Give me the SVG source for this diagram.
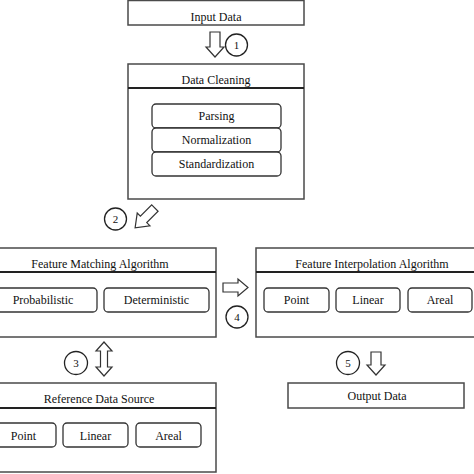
<svg xmlns="http://www.w3.org/2000/svg" width="474" height="474" viewBox="0 0 474 474">
<style>
  .box{fill:#fff;stroke:#4a4a4a;stroke-width:1.5}
  .hdr{stroke:#222;stroke-width:2}
  .item{fill:#fff;stroke:#333;stroke-width:1.3}
  .t{font-family:"Liberation Serif","Times New Roman","DejaVu Serif",serif;font-size:12px;fill:#111;text-anchor:middle}
  .num{font-family:"Liberation Serif","Times New Roman","DejaVu Serif",serif;font-size:11px;fill:#111;text-anchor:middle}
  .arr{fill:#fff;stroke:#333;stroke-width:1.2;stroke-linejoin:miter}
  .circ{fill:#fff;stroke:#222;stroke-width:1.3}
</style>
<rect width="474" height="474" fill="#fff"/>

<g id="input-data">
  <rect class="box" x="128" y="0.5" width="176" height="24.5"/>
  <text class="t" x="216" y="21">Input Data</text>
</g>

<g id="data-cleaning">
  <rect class="box" x="128" y="64" width="176" height="135"/>
  <line class="hdr" x1="128" y1="88" x2="304" y2="88"/>
  <text class="t" x="216" y="84">Data Cleaning</text>
  <rect class="item" x="152" y="104" width="129" height="24" rx="4"/>
  <text class="t" x="216.5" y="120">Parsing</text>
  <rect class="item" x="152" y="128" width="129" height="24" rx="4"/>
  <text class="t" x="216.5" y="144">Normalization</text>
  <rect class="item" x="152" y="152" width="129" height="24" rx="4"/>
  <text class="t" x="216.5" y="168">Standardization</text>
</g>

<g id="feature-matching">
  <rect class="box" x="-17" y="248" width="233" height="89"/>
  <line class="hdr" x1="-17" y1="272" x2="216" y2="272"/>
  <text class="t" x="100" y="268">Feature Matching Algorithm</text>
  <rect class="item" x="-10" y="288" width="107" height="24" rx="4"/>
  <text class="t" x="43" y="304">Probabilistic</text>
  <rect class="item" x="104" y="288" width="105" height="24" rx="4"/>
  <text class="t" x="156.5" y="304">Deterministic</text>
</g>

<g id="feature-interpolation">
  <rect class="box" x="256" y="248" width="232" height="89"/>
  <line class="hdr" x1="256" y1="272" x2="488" y2="272"/>
  <text class="t" x="372" y="268">Feature Interpolation Algorithm</text>
  <rect class="item" x="264" y="288" width="65" height="24" rx="4"/>
  <text class="t" x="296.5" y="304">Point</text>
  <rect class="item" x="336" y="288" width="64" height="24" rx="4"/>
  <text class="t" x="368" y="304">Linear</text>
  <rect class="item" x="408" y="288" width="64" height="24" rx="4"/>
  <text class="t" x="440" y="304">Areal</text>
</g>

<g id="reference-data-source">
  <rect class="box" x="-17" y="383" width="233" height="89"/>
  <line class="hdr" x1="-17" y1="408" x2="216" y2="408"/>
  <text class="t" x="99" y="403">Reference Data Source</text>
  <rect class="item" x="-9" y="423" width="65" height="24" rx="4"/>
  <text class="t" x="23.5" y="440">Point</text>
  <rect class="item" x="63" y="423" width="65" height="24" rx="4"/>
  <text class="t" x="95.5" y="440">Linear</text>
  <rect class="item" x="136" y="423" width="65" height="24" rx="4"/>
  <text class="t" x="168.5" y="440">Areal</text>
</g>

<g id="output-data">
  <rect class="box" x="288" y="383" width="176" height="25"/>
  <text class="t" x="377" y="400">Output Data</text>
</g>

<g id="connectors">
  <path class="arr" d="M210,32 H220 V47 H224 L215,57 L206,47 H210 Z"/>
  <circle class="circ" cx="236.5" cy="45" r="11"/>
  <text class="num" x="236.5" y="49">1</text>

  <path class="arr" transform="translate(145,218) rotate(45)" d="M-4.5,-14 H4.5 V2 H9 L0,14 L-9,2 H-4.5 Z"/>
  <circle class="circ" cx="115.5" cy="219" r="11"/>
  <text class="num" x="115.5" y="223">2</text>

  <path class="arr" d="M104,342 L112,351 H107.5 V367 H112 L104,376 L96,367 H100.5 V351 H96 Z"/>
  <circle class="circ" cx="76" cy="363" r="11.5"/>
  <text class="num" x="76" y="367">3</text>

  <path class="arr" d="M223,283 H238 V279 L248,287.5 L238,296 V292 H223 Z"/>
  <circle class="circ" cx="237" cy="317" r="11"/>
  <text class="num" x="237" y="321">4</text>

  <path class="arr" d="M371,352 H381 V365 H385 L376,375 L367,365 H371 Z"/>
  <circle class="circ" cx="348" cy="363" r="11.5"/>
  <text class="num" x="348" y="367">5</text>
</g>
</svg>
